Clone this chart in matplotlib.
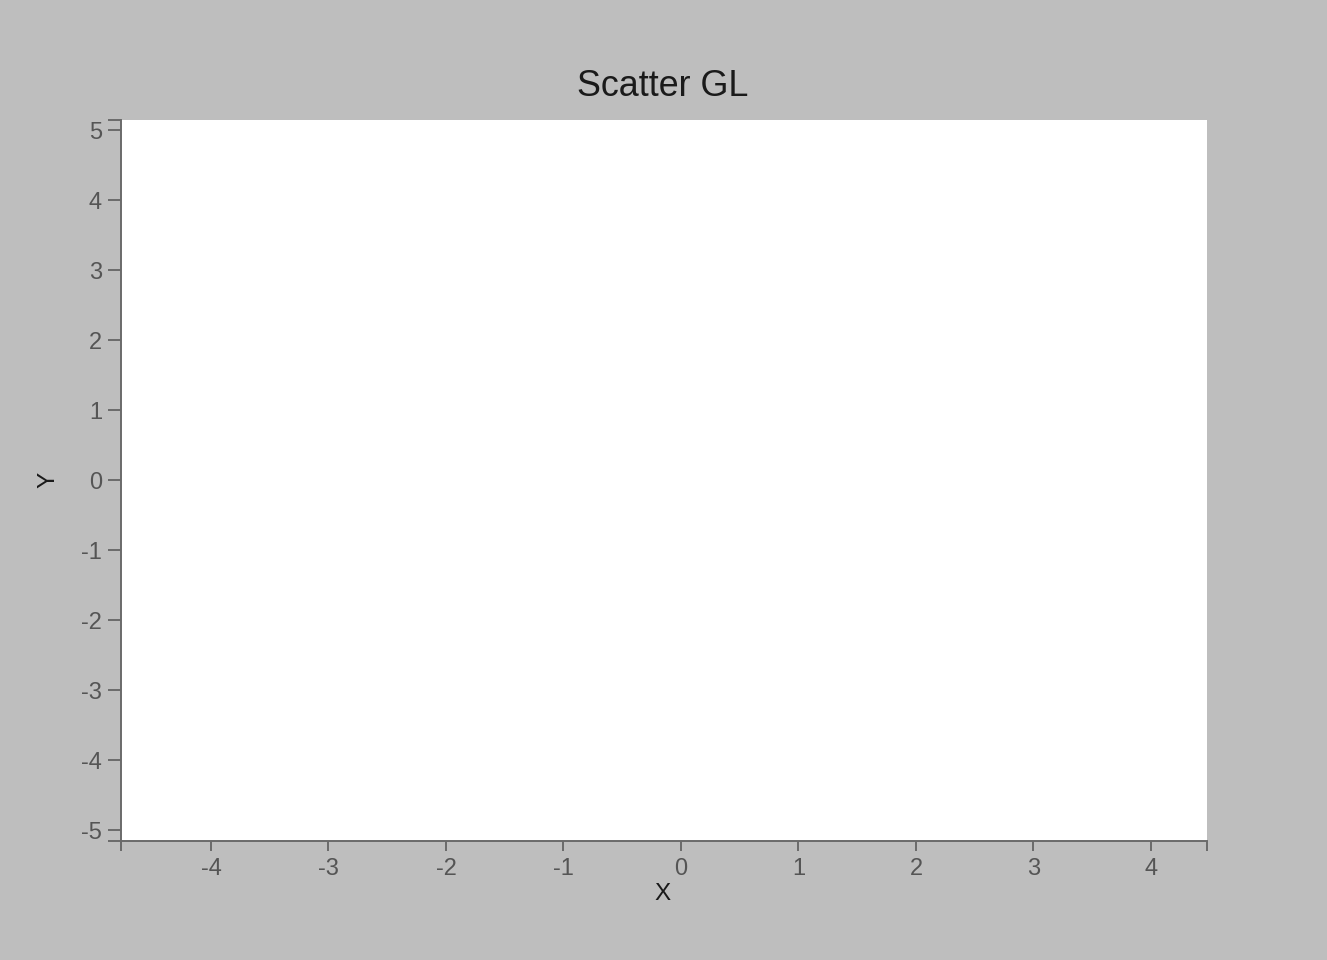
import matplotlib
matplotlib.use('Agg')
import matplotlib.pyplot as plt

# Chart data (the reference shows no visible points)
x_vals = []
y_vals = []
x_ticks = [-4, -3, -2, -1, 0, 1, 2, 3, 4]
y_ticks = [-5, -4, -3, -2, -1, 0, 1, 2, 3, 4, 5]
x_limits = [-4.766, 4.477]
y_limits = [-5.157, 5.143]

plt.rcParams['font.family'] = ['Liberation Sans', 'DejaVu Sans']

bg = '#bebebe'
axis_col = '#6a6a6a'
tick_text = '#555555'
label_col = '#1a1a1a'

fig = plt.figure(figsize=(13.27, 9.6), dpi=100, facecolor=bg)
ax = fig.add_axes([121 / 1327, 1 - 841 / 960, (1207 - 121) / 1327, (841 - 120) / 960])
ax.set_facecolor('white')

ax.scatter(x_vals, y_vals, s=20, color='#1f77b4')

ax.set_xlim(x_limits)
ax.set_ylim(y_limits)

# Major ticks with labels
ax.set_xticks(x_ticks)
ax.set_yticks(y_ticks)
ax.set_xticklabels([str(t) for t in x_ticks])
ax.set_yticklabels([str(t) for t in y_ticks])

# Outer ticks at the ends of each axis line, d3 style
ax.set_xticks(x_limits, minor=True)
ax.set_yticks(y_limits, minor=True)

ax.tick_params(axis='x', which='both', direction='out', length=7.2, width=1.4,
               color=axis_col, labelsize=17, labelcolor=tick_text, pad=5.0)
ax.tick_params(axis='y', which='both', direction='out', length=9.2, width=1.4,
               color=axis_col, labelsize=17, labelcolor=tick_text, pad=4.5)

for side in ['top', 'right']:
    ax.spines[side].set_visible(False)
for side in ['left', 'bottom']:
    ax.spines[side].set_color(axis_col)
    ax.spines[side].set_linewidth(1.4)

fig.text(663 / 1327, 1 - 82 / 960, 'Scatter GL', ha='center', va='center_baseline',
         fontsize=25.8, color=label_col)
fig.text(663 / 1327, 1 - 891 / 960, 'X', ha='center', va='center_baseline',
         fontsize=17.5, color=label_col)
fig.text(48 / 1327, 1 - 480 / 960, 'Y', ha='center', va='center', rotation=90,
         fontsize=17.5, color=label_col)

fig.savefig('out.png', dpi=100, facecolor=bg)
